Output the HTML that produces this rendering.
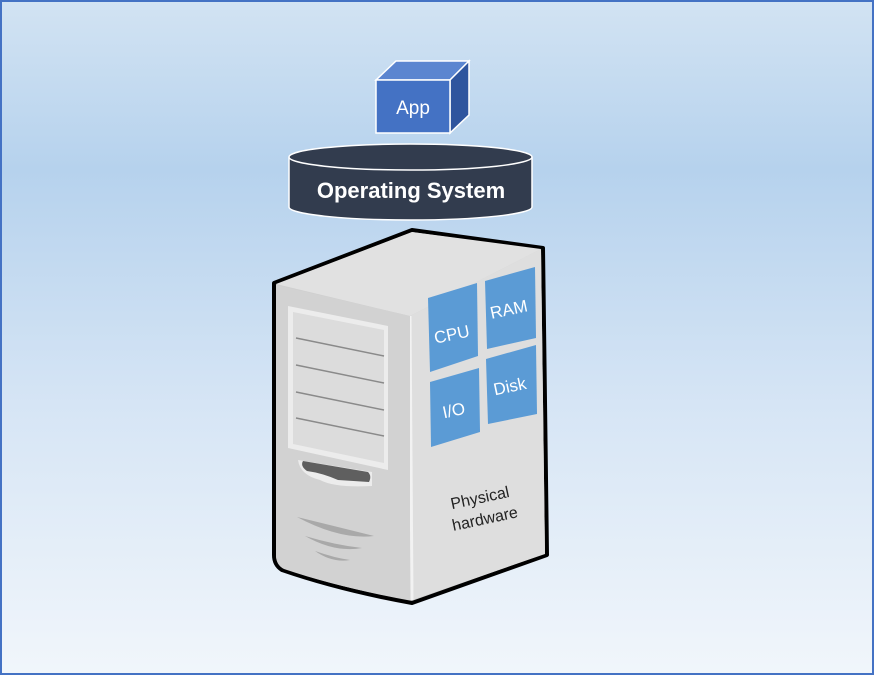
<!DOCTYPE html>
<html><head><meta charset="utf-8"><style>
html,body{margin:0;padding:0;width:874px;height:675px;overflow:hidden}
svg{display:block}
text{font-family:"Liberation Sans",sans-serif}
</style></head><body>
<svg width="874" height="675" viewBox="0 0 874 675" xmlns="http://www.w3.org/2000/svg">
<defs>
<linearGradient id="bg" x1="0" y1="0" x2="0" y2="1">
<stop offset="0" stop-color="#d2e3f3"/>
<stop offset="0.25" stop-color="#b6d2ed"/>
<stop offset="0.6" stop-color="#d6e5f5"/>
<stop offset="1" stop-color="#f1f6fb"/>
</linearGradient>
</defs>
<rect x="1" y="1" width="872" height="673" fill="url(#bg)" stroke="#4472c4" stroke-width="2"/>

<!-- App cube -->
<polygon points="376,80 396,61 469,61 450,80" fill="#5b85d0" stroke="#fff" stroke-width="1.5"/>
<polygon points="450,80 469,61 469,115 450,133" fill="#2f559e" stroke="#fff" stroke-width="1.5"/>
<rect x="376" y="80" width="74" height="53" fill="#4472c4" stroke="#fff" stroke-width="1.5"/>
<text x="413" y="114" font-size="19" fill="#fff" text-anchor="middle">App</text>

<!-- Cylinder -->
<path d="M289,157 L289,207 A121.5,13 0 0 0 532,207 L532,157" fill="#323c4e" stroke="#fff" stroke-width="1.5"/>
<ellipse cx="410.5" cy="157" rx="121.5" ry="13" fill="#323c4e" stroke="#fff" stroke-width="1.5"/>
<text x="411" y="198" font-size="22" font-weight="bold" fill="#fff" text-anchor="middle">Operating System</text>

<!-- Server -->
<path d="M274,283 L412,230 L543,248 L547,555 L412,603 Q340,590 282,570 Q274,565 274,555 Z" fill="#cfcfcf" stroke="#000" stroke-width="4" stroke-linejoin="round"/>
<polygon points="276,284 412,232 541,249 410,316" fill="#e1e1e1"/>
<path d="M410,316 L541,249 L545,554 L412,600 Z" fill="#dedede"/>
<path d="M410,316 L412,600" stroke="#f2f2f2" stroke-width="3"/>
<path d="M276,285 L276,555 Q276,565 284,569 Q340,588 410,600 L410,316 Z" fill="#d2d2d2"/>
<!-- drive bay -->
<polygon points="288,306 388,326 388,470 288,448" fill="#ececec"/>
<polygon points="293,312 384,330 384,463 293,444" fill="#dcdcdc"/>
<g stroke="#8a8a8a" stroke-width="1.5">
<line x1="296" y1="338" x2="384" y2="356"/>
<line x1="296" y1="365" x2="384" y2="383"/>
<line x1="296" y1="392" x2="384" y2="410"/>
<line x1="296" y1="418" x2="384" y2="436"/>
</g>
<path d="M298,460 Q300,475 320,480 Q335,488 372,486 L372,472 Z" fill="#ececec"/>
<path d="M303,461 L368,472 Q372,476 369,482 L338,480 Q322,473 307,471 Q300,466 303,461 Z" fill="#5f5f5f"/>
<!-- vents -->
<g fill="#a9a9a9">
<path d="M297,517 Q330,525 374,536 Q340,540 297,517 Z"/>
<path d="M305,536 Q335,545 362,548 Q335,553 305,536 Z"/>
<path d="M315,551 Q335,558 350,560 Q332,563 315,551 Z"/>
</g>
<!-- component boxes -->
<g fill="#5b9bd5">
<polygon points="428,298 477,283 478,356 430,372"/>
<polygon points="485,281 535,267 536,338 487,349"/>
<polygon points="430,382 479,368 480,432 431,447"/>
<polygon points="486,359 536,345 537,414 488,424"/>
</g>
<g fill="#fff" font-size="17" text-anchor="middle">
<text transform="translate(453,340) rotate(-12)">CPU</text>
<text transform="translate(510,315) rotate(-12)">RAM</text>
<text transform="translate(455,416) rotate(-12)">I/O</text>
<text transform="translate(511,392) rotate(-12)">Disk</text>
</g>
<g fill="#222" font-size="16" text-anchor="middle">
<text transform="translate(481,503) rotate(-12)">Physical</text>
<text transform="translate(486,524) rotate(-12)">hardware</text>
</g>
</svg>
</body></html>
